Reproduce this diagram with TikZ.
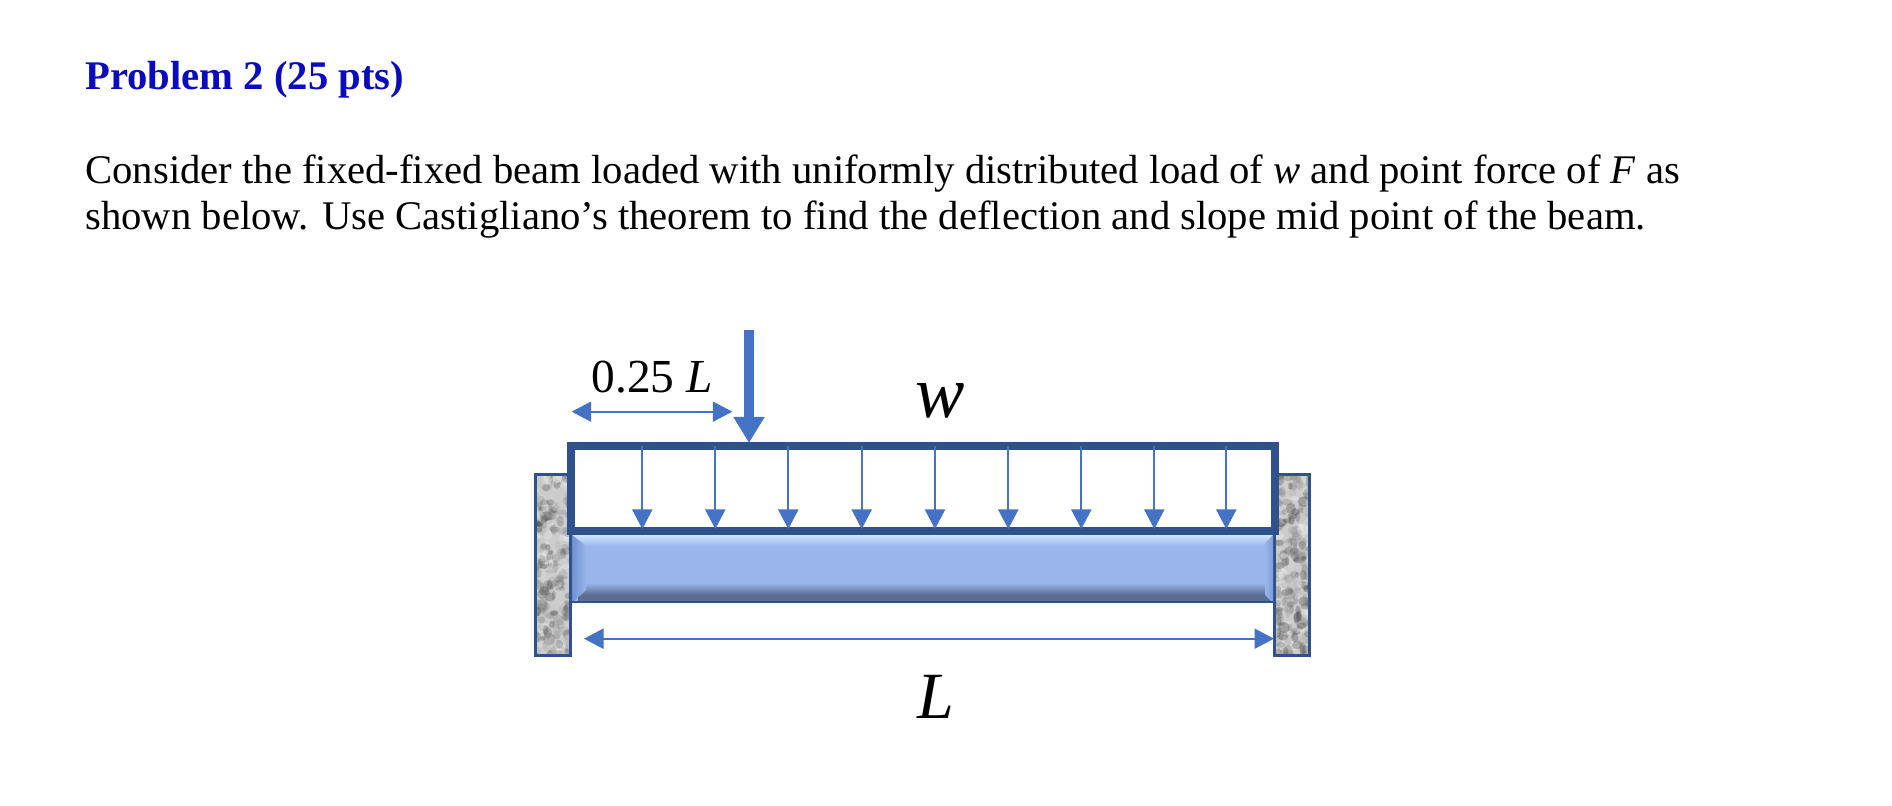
\documentclass[tikz,border=0pt]{standalone}
\usepackage{fontspec}
\setmainfont{Liberation Serif}
\usetikzlibrary{arrows.meta}
\definecolor{arrowblue}{HTML}{4472C4}
\definecolor{framedark}{HTML}{2F528F}
\definecolor{beamfill}{HTML}{9AB5EA}
\definecolor{beamlight}{HTML}{CDE8FF}
\definecolor{beamdark}{HTML}{5A6D93}
\definecolor{bevelside}{HTML}{7090D0}
\definecolor{titleblue}{HTML}{0A0ABF}
\tikzset{
  x=0.5pt,y=-0.5pt,
  bodytext/.style={anchor=base west,inner sep=0,outer sep=0,font=\fontsize{20.33}{24}\selectfont},
  titletext/.style={anchor=base west,inner sep=0,outer sep=0,text=titleblue,font=\fontsize{20.33}{24}\selectfont\bfseries},
  symboltext/.style={anchor=base west,inner sep=0,outer sep=0},
  thinload/.style={draw=arrowblue,line width=1pt,-{Triangle[length=9.75pt,width=10pt]}},
  dimline/.style={draw=arrowblue,line width=1pt,{Triangle[length=9.75pt,width=10pt]}-{Triangle[length=9.75pt,width=10pt]}},
  bigforce/.style={draw=arrowblue,line width=5pt,-{Triangle[length=13pt,width=14.7pt]}},
  loadframe/.style={draw=framedark,line width=4pt},
  wallbox/.style={draw=framedark,line width=1.5pt},
}
\begin{document}
\begin{tikzpicture}
\useasboundingbox (0,0) rectangle (1892,806);
\fill[white] (0,0) rectangle (1892,806);
% texts
\node[titletext] (title) at (85.5,89.5) {Problem 2 (25 pts)};
\node[bodytext] (line1) at (85.5,183.5) {Consider the fixed-fixed beam loaded with uniformly distributed load of \textit{w} and point force of \textit{F} as};
\node[bodytext] (line2) at (85.5,229.5) {shown below. Use Castigliano’s theorem to find the deflection and slope mid point of the beam.};
% walls
\foreach \wx/\sd in {535.5/11,1274.2/29}{
  \begin{scope}
    \clip (\wx,474.8) rectangle (\wx+35,655.8);
    \fill[black!20] (\wx,474.8) rectangle (\wx+35,655.8);
    \pgfmathsetseed{\sd}
    \foreach \i in {1,...,260}{
      \pgfmathsetmacro{\px}{\wx+rnd*35}
      \pgfmathsetmacro{\py}{474.8+rnd*181}
      \pgfmathsetmacro{\rr}{2+rnd*4}
      \pgfmathsetmacro{\rs}{2+rnd*4}
      \pgfmathsetmacro{\gg}{int(rnd*85)}
      \fill[black!\gg,opacity=0.3] (\px,\py) ellipse[x radius=\rr,y radius=\rs];
    }
  \end{scope}
  \draw[wallbox] (\wx,474.8) rectangle (\wx+35,655.8);
}
% beam
\fill[beamfill] (572,535) rectangle (1273,603);
\shade[top color=beamlight,bottom color=beamfill] (572,535) -- (1273,535) -- (1267,546) -- (586,546) -- cycle;
\shade[top color=beamfill,bottom color=beamdark] (586,583) -- (1267,583) -- (1267,595) -- (580,595) -- cycle;
\fill[beamdark] (578,595) rectangle (1273,603);
\shade[left color=bevelside,right color=beamfill] (572,535) -- (586,546) -- (586,590) -- (572,603) -- cycle;
\shade[left color=beamfill,right color=bevelside!70!beamfill] (1273,535) -- (1265,543) -- (1265,595) -- (1273,603) -- cycle;
\draw[framedark,line width=1pt] (572,602.5) -- (1273,602.5);
% load frame
\coordinate (fl) at (570.5,446.3);
\coordinate (fr) at (1275,531);
\draw[loadframe] (fl) rectangle (fr);
% uniform load arrows
\foreach \n/\ax in {1/642.3,2/715.3,3/788.3,4/861.7,5/935,6/1008.3,7/1081.3,8/1154.3,9/1226.3}{
  \coordinate (lt\n) at (\ax,446);
  \coordinate (lb\n) at (\ax,529);
  \draw[thinload] (lt\n) -- (lb\n);
}
% point force
\coordinate (ft) at (749,330);
\coordinate (fb) at (749,443);
\draw[bigforce] (ft) -- (fb);
% dimensions
\coordinate (da) at (571.7,411.7);
\coordinate (db) at (732.3,411.7);
\draw[dimline] (da) -- (db);
\coordinate (la) at (584,638.7);
\coordinate (lb) at (1274,638.7);
\draw[dimline] (la) -- (lb);
% symbols
\node[symboltext,font=\fontsize{23.7}{26}\selectfont] (dimlabel) at (591.7,392.2) {0.25 \textit{L}};
\node[symboltext,font=\fontsize{37}{40}\selectfont\itshape] (wlabel) at (915.5,418) {w};
\node[symboltext,font=\fontsize{33}{36}\selectfont\itshape] (llabel) at (917,719) {L};
\end{tikzpicture}
\end{document}
